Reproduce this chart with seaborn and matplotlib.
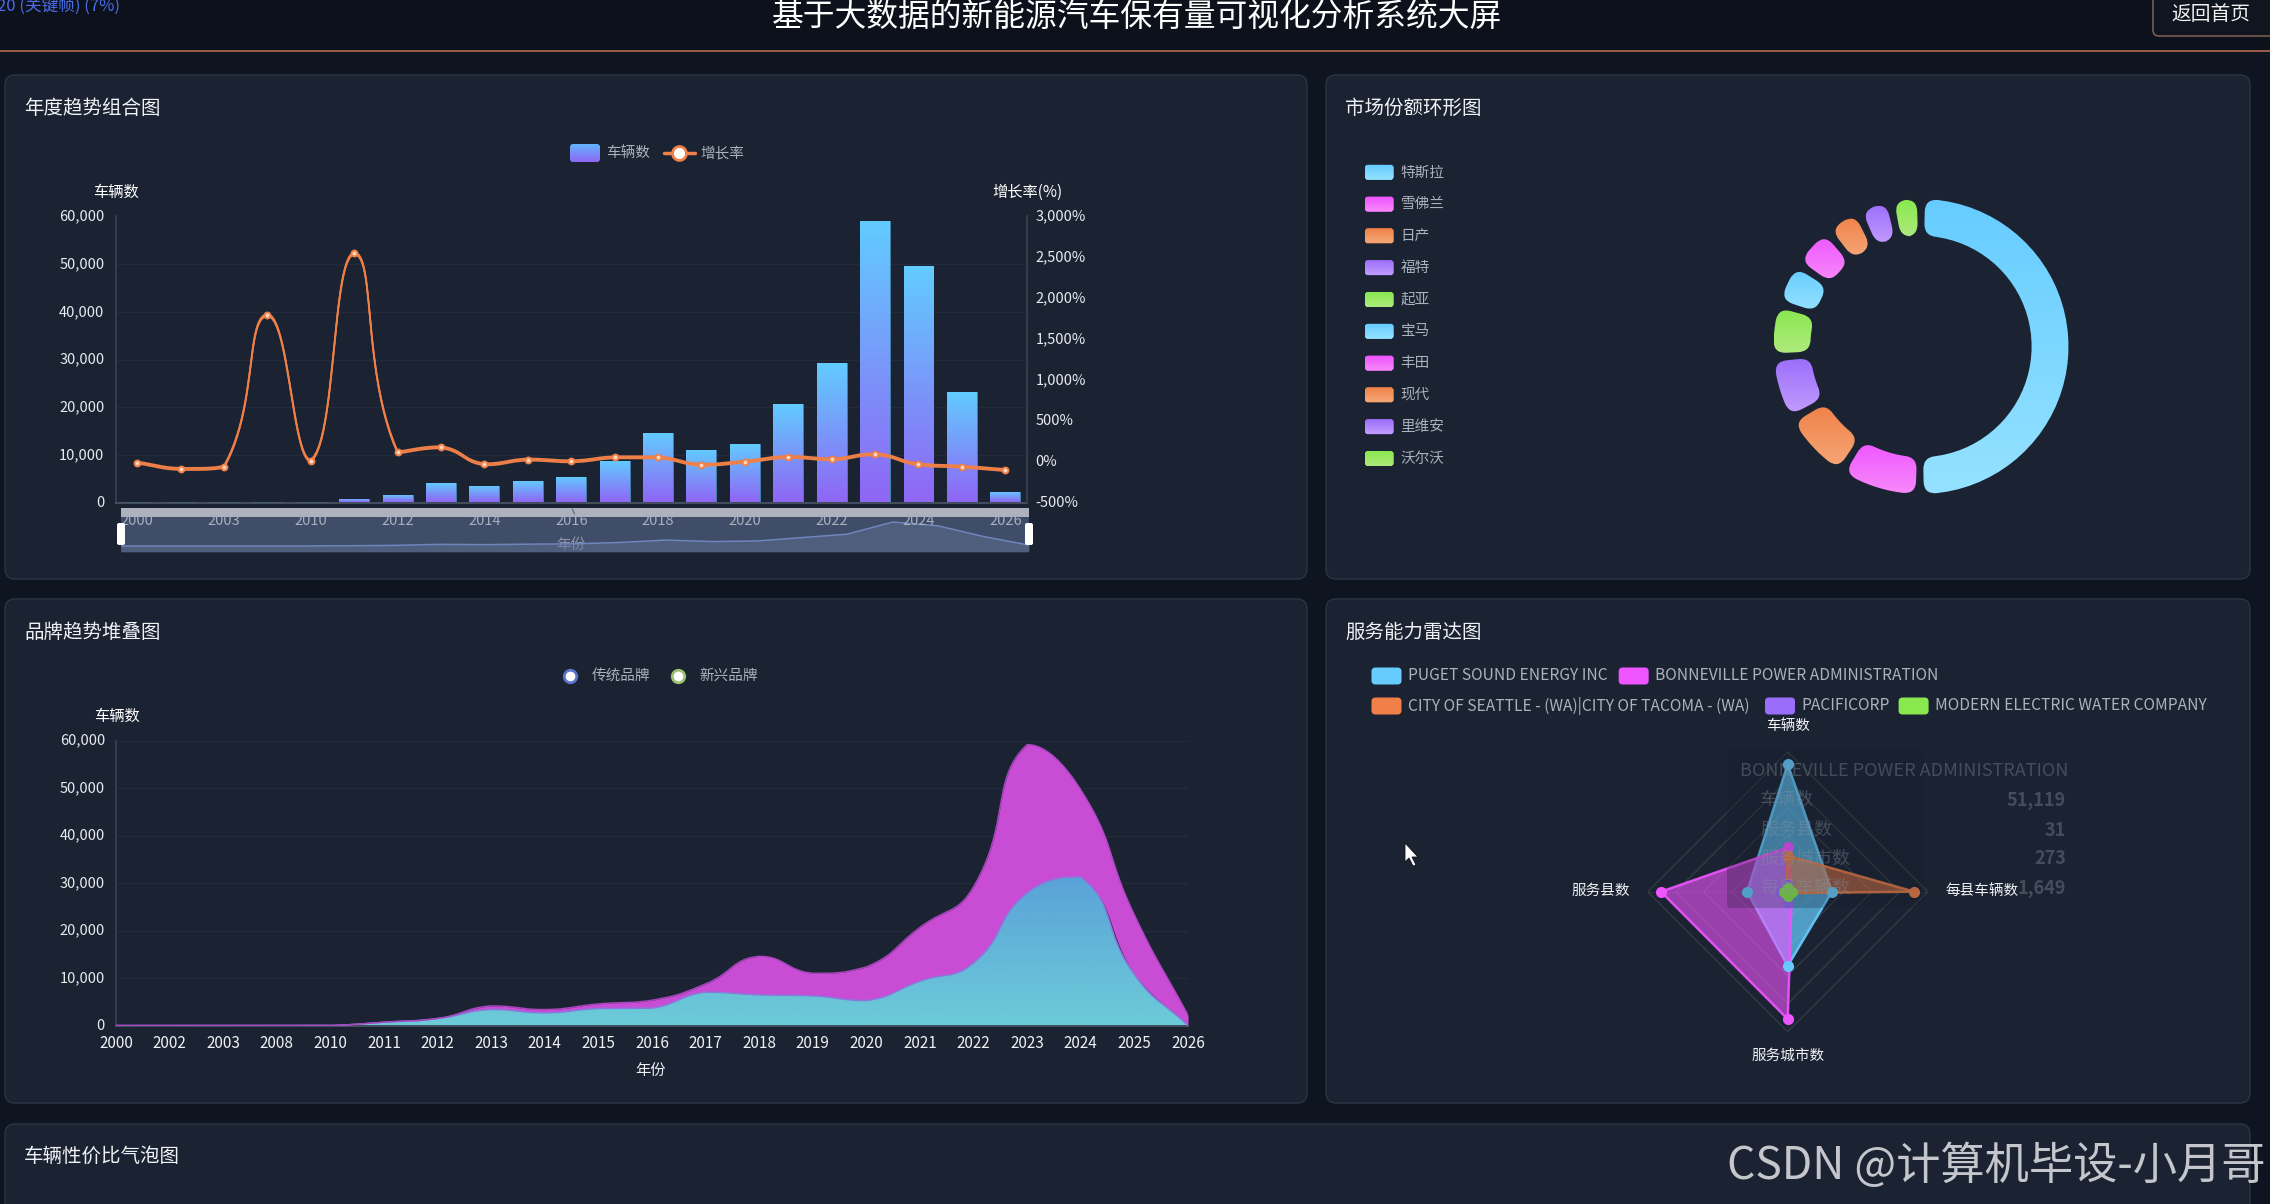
import numpy as np
import pandas as pd
import seaborn as sns
import matplotlib
matplotlib.use("Agg")
import matplotlib.pyplot as plt
import matplotlib.patheffects as pe
from matplotlib.colors import LinearSegmentedColormap
from matplotlib.patches import FancyBboxPatch, Rectangle, PathPatch, Polygon
from matplotlib.path import Path
from matplotlib.ticker import FuncFormatter
from matplotlib.transforms import ScaledTranslation

W, H = 2270, 1204

# 年份
years = [2000, 2002, 2003, 2008, 2010, 2011, 2012, 2013, 2014, 2015, 2016,
         2017, 2018, 2019, 2020, 2021, 2022, 2023, 2024, 2025, 2026]
vehicles = [2, 1, 1, 20, 20, 700, 1470, 4130, 3360, 4550, 5320,
            8760, 14570, 11000, 12330, 20670, 29220, 59150, 49610, 23260, 2170]
growth = [-12, -90, -62, 1793, 12, 2548, 115, 176, -33, 25, 4,
          53, 53, -37, 0, 57, 29, 90, -33, -62, -103]
# 传统品牌 / 新兴品牌
traditional = [0, 0, 0, 0, 0, 700, 1470, 3370, 2670, 3580, 3650,
               7020, 6460, 6250, 5260, 9330, 13190, 27930, 31230, 10740, 0]
emerging = [2, 1, 1, 20, 20, 0, 0, 760, 690, 970, 1670,
            1740, 8110, 4750, 7070, 11340, 16030, 31220, 18380, 12520, 2170]

brands = ["特斯拉", "雪佛兰", "日产", "福特", "起亚", "宝马", "丰田", "现代", "里维安", "沃尔沃"]
brand_share = [180, 32, 28, 25, 21, 17, 17, 14, 13, 12]

radar_axes = ["车辆数", "服务县数", "服务城市数", "每县车辆数"]
pse = [0.91, 0.29, 0.53, 0.316]
bpa = [0.317, 0.905, 0.91, 0.03]
seattle = [0.257, 0.01, 0.01, 0.905]
pacificorp = [0.05, 0.05, 0.08, 0.02]
modern = [0.03, 0.03, 0.03, 0.03]
utilities = ["PUGET SOUND ENERGY INC", "BONNEVILLE POWER ADMINISTRATION",
             "CITY OF SEATTLE - (WA)|CITY OF TACOMA - (WA)", "PACIFICORP",
             "MODERN ELECTRIC WATER COMPANY"]

BG = "#0e1521"
PANEL = "#1b2332"
EDGE = "#2c3544"
BLUE = "#66ccff"
MAGENTA = "#ee55ff"
ORANGE = "#f08048"
PURPLE = "#9b6dfb"
GREEN = "#88e84e"
PIE_LIGHT = {BLUE: "#95e2ff", MAGENTA: "#f78afa", ORANGE: "#f5a877", PURPLE: "#c39dff", GREEN: "#aeea7c"}
CYCLE = [BLUE, MAGENTA, ORANGE, PURPLE, GREEN]

sns.set_theme(style="dark")
plt.rcParams["font.family"] = ["Noto Sans CJK SC", "DejaVu Sans"]
plt.rcParams["axes.unicode_minus"] = False

fig = plt.figure(figsize=(W / 100, H / 100), dpi=100, facecolor=BG)


def axes_px(x0, y0, x1, y1, **kw):
    return fig.add_axes([x0 / W, 1 - y1 / H, (x1 - x0) / W, (y1 - y0) / H], **kw)


def grad_fill(ax, patch, top, bottom, box, zorder=2):
    cmap = LinearSegmentedColormap.from_list("g", [top, bottom])
    im = ax.imshow(np.linspace(0, 1, 128).reshape(-1, 1), cmap=cmap, extent=box,
                   aspect="auto", zorder=zorder, origin="upper")
    im.set_clip_path(patch)


def smooth(xs, ys, sx=1.0, sy=1.0, k=0.5, n=24):
    # same idea as echarts smooth line, control points stay inside each segment box
    p = np.column_stack([np.asarray(xs, float) * sx, np.asarray(ys, float) * sy])
    m = len(p)
    out = []
    for i in range(m - 1):
        a, b = p[i], p[i + 1]
        pa, nb = p[max(i - 1, 0)], p[min(i + 2, m - 1)]
        d0, d1 = np.linalg.norm(a - pa), np.linalg.norm(b - a)
        c1 = a + (b - pa) * k * (d1 / (d0 + d1) if d0 + d1 else 0)
        d2 = np.linalg.norm(nb - b)
        c2 = b - (nb - a) * k * (d1 / (d1 + d2) if d1 + d2 else 0)
        lo, hi = np.minimum(a, b), np.maximum(a, b)
        c1, c2 = np.clip(c1, lo, hi), np.clip(c2, lo, hi)
        t = np.linspace(0, 1, n, endpoint=False)[:, None]
        out.append((1 - t) ** 3 * a + 3 * (1 - t) ** 2 * t * c1 + 3 * (1 - t) * t ** 2 * c2 + t ** 3 * b)
    out.append(p[-1:])
    out = np.vstack(out)
    return out[:, 0] / sx, out[:, 1] / sy


def style_axes(ax):
    ax.set_facecolor("none")
    for s in ax.spines.values():
        s.set_visible(False)
    ax.set_xlabel("")
    ax.set_ylabel("")
    ax.grid(False)


def lift_ylabels(ax, px=1.3):
    # tick text sits a little high in the screenshot
    for t in ax.get_yticklabels():
        t.set_transform(t.get_transform() + ScaledTranslation(0, px / 100, fig.dpi_scale_trans))


def rounded_sector(t1, t2, r0, r1, c):
    # ring sector with soft corners, angles in degrees
    a1, a2 = np.radians(t1), np.radians(t2)
    do, di = c / r1, c / r0
    pol = lambda r, a: (r * np.cos(a), r * np.sin(a))
    verts, codes = [pol(r1 - c, a1)], [Path.MOVETO]
    verts += [pol(r1, a1), pol(r1, a1 + do)]
    codes += [Path.CURVE3, Path.CURVE3]
    for a in np.linspace(a1 + do, a2 - do, 40)[1:]:
        verts.append(pol(r1, a))
        codes.append(Path.LINETO)
    verts += [pol(r1, a2), pol(r1 - c, a2), pol(r0 + c, a2), pol(r0, a2), pol(r0, a2 - di)]
    codes += [Path.CURVE3, Path.CURVE3, Path.LINETO, Path.CURVE3, Path.CURVE3]
    for a in np.linspace(a2 - di, a1 + di, 40)[1:]:
        verts.append(pol(r0, a))
        codes.append(Path.LINETO)
    verts += [pol(r0, a1), pol(r0 + c, a1), pol(r1 - c, a1)]
    codes += [Path.CURVE3, Path.CURVE3, Path.LINETO]
    return Path(verts, codes)


# 背景层
bg = axes_px(0, 0, W, H, zorder=0)
bg.set_xlim(0, W)
bg.set_ylim(H, 0)
bg.axis("off")


def rect(x0, y0, x1, y1, fc, ec="none", r=3, lw=1, z=1, target=None, alpha=None, clip=True):
    p = FancyBboxPatch((x0, y0), x1 - x0, y1 - y0, boxstyle=f"round,pad=0,rounding_size={r}",
                       fc=fc, ec=ec, lw=lw, zorder=z, alpha=alpha, clip_on=clip)
    (target or bg).add_patch(p)
    return p


def label(x, y, s, size=10.5, color="#e6eaf0", ha="center", target=None, **kw):
    return (target or bg).text(x, y, s, fontsize=size, color=color, ha=ha, va="center", **kw)


bg.add_patch(Rectangle((0, 0), W, 50, fc="#0c111b", ec="none", zorder=0.5))
bg.plot([0, W], [50.7, 50.7], color="#a8624c", lw=1.3, zorder=1)
label(1137, 17, "基于大数据的新能源汽车保有量可视化分析系统大屏", size=22.9, color="#ffffff")
label(-3, 6, "20 (关键帧) (7%)", size=12, color="#4a6ee8", ha="left")
rect(2153, -8, 2290, 36, "#10161f", ec="#7c5a50", r=6, lw=1.2, z=1.5)
label(2211, 15, "返回首页", size=14.2, color="#f2f2f2")

for x0, y0, x1, y1, name, dy in [(5, 75, 1307, 579, "年度趋势组合图", 33.5),
                                 (1326, 75, 2250, 579, "市场份额环形图", 33.5),
                                 (5, 599, 1307, 1103, "品牌趋势堆叠图", 33.5),
                                 (1326, 599, 2250, 1103, "服务能力雷达图", 33.5),
                                 (5, 1124, 2250, 1300, "车辆性价比气泡图", 32)]:
    rect(x0, y0, x1, y1, PANEL, ec=EDGE, r=10, lw=1)
    label(x0 + 19, y0 + dy, name, size=14, color="#f0f2f5", ha="left")

# 年度趋势组合图
df = pd.DataFrame({"year": [str(y) for y in years], "vehicles": vehicles, "growth": growth})
ax = axes_px(115.5, 216.5, 1027, 502.5, zorder=2)
sns.barplot(data=df, x="year", y="vehicles", width=0.69, color=BLUE, ax=ax, zorder=2)
ax.set_xlim(-0.5, 20.5)
ax.set_ylim(0, 60000)
for bar in list(ax.patches):
    bar.set_facecolor("none")
    bar.set_edgecolor("#4a93c4")
    bar.set_linewidth(0.6)
    x = bar.get_x()
    grad_fill(ax, bar, "#62ccff", "#8f66f5", (x, x + bar.get_width(), 0, bar.get_height()))
ax.set_xlim(-0.5, 20.5)
ax.set_ylim(0, 60000)
style_axes(ax)
ax.spines["left"].set_visible(True)
ax.spines["left"].set_color("#37404f")
ax.spines["bottom"].set_visible(True)
ax.spines["bottom"].set_color("#4b5465")
ax.set_xticks(range(0, 21, 2))
ax.set_xticklabels([years[i] for i in range(0, 21, 2)])
ax.set_xticks(np.arange(-0.5, 21, 2), minor=True)
ax.tick_params(axis="x", which="major", length=0, pad=8, labelsize=10.5, labelcolor="#a8afbc")
ax.tick_params(axis="x", which="minor", length=5, color="#4b5465")
ax.set_yticks(range(0, 60001, 10000))
ax.yaxis.set_major_formatter(FuncFormatter(lambda v, _: f"{int(v):,}"))
ax.tick_params(axis="y", length=0, pad=8, labelsize=10.5, labelcolor="#e8ebf0")
ax.yaxis.grid(True, color="#ffffff", alpha=0.04, lw=1)
ax.set_axisbelow(True)
lift_ylabels(ax)

ax2 = ax.twinx()
ax2.set_facecolor("none")
sx = 43.4
sy = 286 / 3500
lx, ly = smooth(range(21), growth, sx, sy)
sns.lineplot(x=lx, y=ly, sort=False, estimator=None, color="#ee8048", lw=1.2, ax=ax2, zorder=5,
             path_effects=[pe.Stroke(linewidth=1.2, foreground="#ee8048", offset=(0, 0.8)),
                           pe.Stroke(linewidth=1.2, foreground="#ee8048", offset=(0, -0.8)), pe.Normal()])
sns.scatterplot(x=list(range(21)), y=growth, s=18, color="#ffd8c0", edgecolor="#ee8048", linewidth=1.4,
                ax=ax2, zorder=6)
ax2.set_xlim(-0.5, 20.5)
ax2.set_ylim(-500, 3000)
style_axes(ax2)
ax2.spines["right"].set_visible(True)
ax2.spines["right"].set_color("#37404f")
ax2.set_yticks(range(-500, 3001, 500))
ax2.yaxis.set_major_formatter(FuncFormatter(lambda v, _: f"{int(v):,}%"))
ax2.tick_params(axis="y", length=0, pad=6, labelsize=10.5, labelcolor="#e8ebf0")
lift_ylabels(ax2)

label(116, 192, "车辆数", size=11, color="#ffffff")
label(1027, 192, "增长率(%)", size=11, color="#ffffff")
rect(570, 144, 600, 162, BLUE, r=4, z=2)
grad_fill(bg, bg.patches[-1], "#62b4ff", "#8f66f5", (570, 600, 162, 144), zorder=2.1)
bg.plot([664, 695], [153, 153], color="#ee8048", lw=2.5, zorder=2)
bg.plot([679], [153], "o", ms=10, mfc="#ffffff", mec="#ee8048", mew=2, zorder=3)
label(606, 153, "车辆数", color="#aab2be", ha="left")
label(700, 153, "增长率", color="#aab2be", ha="left")
bg.set_xlim(0, W)
bg.set_ylim(H, 0)

# 缩放条，放在主图下面，年份标签压在上面
sl = axes_px(121, 508, 1029, 552, zorder=1.5)
sl.set_xlim(0, 1)
sl.set_ylim(1, 0)
sl.axis("off")
sl.add_patch(Rectangle((0, 0), 1, 9 / 44, fc="#aeb2bf", ec="none"))
sl.add_patch(Rectangle((0, 9 / 44), 1, 35 / 44, fc="#4a5876", ec="none", alpha=0.8))
sl.plot([0.497, 0.5], [1 / 44, 7 / 44], color="#6a7080", lw=1)
label(0.496, 37 / 44, "年份", color="#8e97a8", target=sl, size=10.5)
sl.set_xlim(0, 1)
sl.set_ylim(1, 0)

pv = axes_px(121, 517, 1029, 552, zorder=1.6)
pv.patch.set_alpha(0)
pv_x = np.arange(21)
sns.lineplot(x=pv_x, y=vehicles, color="#6f86bd", lw=1.1, ax=pv)
pv.fill_between(pv_x, vehicles, -14790, color="#64739a", alpha=0.45, lw=0)
pv.set_xlim(0, 20)
pv.set_ylim(-14790, 71485)
pv.axis("off")

hd = axes_px(0, 0, W, H, zorder=2.5)
hd.set_xlim(0, W)
hd.set_ylim(H, 0)
hd.axis("off")
hd.patch.set_alpha(0)
for hx in (121, 1029):
    rect(hx - 4, 523, hx + 4, 545, "#ffffff", r=2, target=hd, z=4)

# 市场份额环形图
cx, cy, R = 1921, 346.5, 147.5
pie_ax = axes_px(cx - R, cy - R, cx + R, cy + R, zorder=2)
wedges, _ = pie_ax.pie(brand_share, startangle=90, counterclock=False, radius=1)
pie_ax.set_xlim(-1, 1)
pie_ax.set_ylim(-1, 1)
pie_ax.set_aspect("equal")
for i, w in enumerate(wedges):
    t1, t2 = w.theta1, w.theta2
    w.set_visible(False)
    path = rounded_sector(t1 + 1.6, t2 - 1.6, 0.75, 1.0, 0.085)
    part = PathPatch(path, fc="none", ec="none", transform=pie_ax.transData)
    pie_ax.add_patch(part)
    col = CYCLE[i % 5]
    vv = path.vertices
    grad_fill(pie_ax, part, col, PIE_LIGHT[col], (vv[:, 0].min(), vv[:, 0].max(), vv[:, 1].min(), vv[:, 1].max()))
pie_ax.set_xlim(-1, 1)
pie_ax.set_ylim(-1, 1)
pie_ax.axis("off")

for i, b in enumerate(brands):
    y = 172.3 + 31.8 * i
    col = CYCLE[i % 5]
    p = rect(1365, y - 7.5, 1393.5, y + 7.5, col, r=3, z=2)
    grad_fill(bg, p, col, PIE_LIGHT[col], (1365, 1393.5, y + 7.5, y - 7.5), zorder=2.1)
    label(1400.5, y, b, color="#aab2be", ha="left")
bg.set_xlim(0, W)
bg.set_ylim(H, 0)

# 品牌趋势堆叠图
total = [a + b for a, b in zip(traditional, emerging)]
ax3 = axes_px(116, 740.5, 1188, 1025.5, zorder=2)
sx3, sy3 = 53.6, 285 / 60000
xa, ya = smooth(range(21), traditional, sx3, sy3)
xb, yb = smooth(range(21), total, sx3, sy3)
ax3.fill_between(xb, ya, yb, color="#c84cd4", lw=0, zorder=2)
low = ax3.fill_between(xa, 0, ya, color="none", lw=0)
clip = PathPatch(low.get_paths()[0], fc="none", ec="none", transform=ax3.transData)
ax3.add_patch(clip)
grad_fill(ax3, clip, "#5aa2d8", "#6ccbd8", (0, 20, 0, 31500), zorder=3)
sns.lineplot(x=xa, y=ya, sort=False, estimator=None, color="#8a78dc", lw=1.1, ax=ax3, zorder=4)
sns.lineplot(x=xb, y=yb, sort=False, estimator=None, color="#a946c0", lw=1, ax=ax3, zorder=4)
ax3.set_xlim(0, 20)
ax3.set_ylim(0, 60000)
style_axes(ax3)
ax3.spines["left"].set_visible(True)
ax3.spines["left"].set_color("#37404f")
ax3.spines["bottom"].set_visible(True)
ax3.spines["bottom"].set_color("#4b5465")
ax3.set_xticks(range(21))
ax3.set_xticklabels(years)
ax3.tick_params(axis="x", length=4, color="#4b5465", pad=3, labelsize=11, labelcolor="#eef0f4")
ax3.set_yticks(range(0, 60001, 10000))
ax3.yaxis.set_major_formatter(FuncFormatter(lambda v, _: f"{int(v):,}"))
ax3.tick_params(axis="y", length=0, pad=8, labelsize=10.5, labelcolor="#e8ebf0")
ax3.yaxis.grid(True, color="#ffffff", alpha=0.04, lw=1)
ax3.set_axisbelow(True)
lift_ylabels(ax3)

label(117, 716, "车辆数", size=11, color="#ffffff")
label(651, 1070, "年份", size=11, color="#eef0f4")
for x, edge, name, tx in [(570, "#5a75c8", "传统品牌", 592), (678, "#9ac070", "新兴品牌", 699)]:
    bg.plot([x], [676], "o", ms=9, mfc="#ffffff", mec=edge, mew=2, zorder=3)
    label(tx, 676, name, color="#aab2be", ha="left")
bg.set_xlim(0, W)
bg.set_ylim(H, 0)

# 服务能力雷达图
rcx, rcy, rr = 1787.7, 891.7, 140
rax = axes_px(rcx - rr, rcy - rr, rcx + rr, rcy + rr, polar=True, zorder=2)
rax.set_theta_offset(np.pi / 2)
rax.set_ylim(0, 1)
rax.axis("off")
rax.patch.set_alpha(0)
theta = np.linspace(0, 2 * np.pi, 5)
for level in [0.2, 0.4, 0.6, 0.8, 1.0]:
    rax.plot(theta, [level] * 5, color="#ffffff", alpha=0.1, lw=1, zorder=1)
for a in theta[:-1]:
    rax.plot([a, a], [0, 1], color="#ffffff", alpha=0.05, lw=1, zorder=1)
fill_alpha = [0.72, 0.6, 0.6, 0.6, 0.6]
for i, (vals, col) in enumerate(zip([pse, bpa, seattle, pacificorp, modern], CYCLE)):
    closed = vals + vals[:1]
    rax.fill(theta, closed, color=col, alpha=fill_alpha[i], lw=0, zorder=2 + i)
    rax.plot(theta, closed, color=col, lw=1.8, zorder=2 + i, alpha=0.9)
    rax.plot(theta[:-1], vals, "o", color=col, ms=7, zorder=20 + i, clip_on=False)
rax.set_ylim(0, 1)

label(1787.7, 726, radar_axes[0], color="#f0f2f5", size=10.5)
label(1600.5, 891, radar_axes[1], color="#f0f2f5", size=10.5)
label(1787.7, 1056, radar_axes[2], color="#f0f2f5", size=10.5)
label(1981.6, 891, radar_axes[3], color="#f0f2f5", size=10.5)

leg_pos = [(1371.5, 676, 1408.5), (1618.7, 676, 1655), (1371.5, 706, 1408.5), (1765, 706, 1801.7), (1898.6, 706, 1935)]
for name, col, (sw, y, tx) in zip(utilities, CYCLE, leg_pos):
    rect(sw, y - 8.5, sw + 30, y + 8.5, col, r=4, z=2)
    label(tx, y, name, size=11.2, color="#aab2be", ha="left")

# 顶层：淡出的提示框、鼠标、水印
top = axes_px(0, 0, W, H, zorder=6)
top.set_xlim(0, W)
top.set_ylim(H, 0)
top.axis("off")
top.patch.set_alpha(0)
rect(1727, 750, 1925, 908, "#141a28", r=4, target=top, z=1, alpha=0.25)
GHOST = "#8a93a3"
label(1740, 771, utilities[1], size=13, color=GHOST, ha="left", alpha=0.38, target=top)
for y, name, val in [(800, "车辆数", "51,119"), (830, "服务县数", "31"), (859, "服务城市数", "273"), (888, "每县车辆数", "1,649")]:
    label(1760, y, name, size=13, color=GHOST, ha="left", alpha=0.38, target=top)
    label(2066, y, val, size=13, color=GHOST, ha="right", alpha=0.38, weight="bold", target=top)
top.add_patch(Polygon([(1405, 843), (1405, 862), (1409, 858), (1413, 866), (1416, 865), (1412, 857), (1418, 857)],
                      closed=True, fc="#ffffff", ec="#111111", lw=0.6, zorder=5))
label(1996, 1166, "CSDN @计算机毕设-小月哥", size=31.9, color="#c4c6cc", target=top, zorder=6)

fig.savefig("out.png", dpi=100, facecolor=fig.get_facecolor())
